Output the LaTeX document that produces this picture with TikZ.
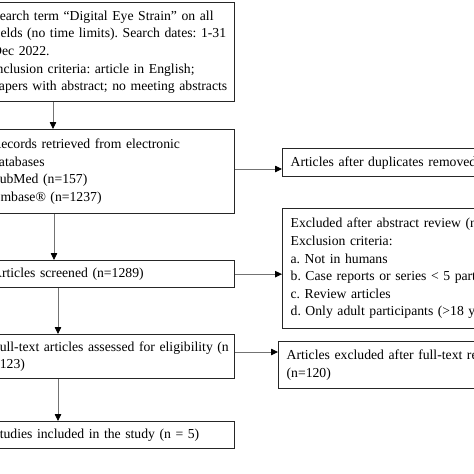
\documentclass[tikz,border=0pt]{standalone}
\usepackage{fontspec}
\setmainfont{Liberation Serif}
\usetikzlibrary{arrows.meta,positioning}

\begin{document}
\frenchspacing
\begin{tikzpicture}[x=1pt, y=-1pt,
    box/.style={draw=black!85, line width=1.3pt, anchor=north west, align=left, font=\fontsize{13.7}{17.6}\selectfont, inner xsep=4pt, inner ysep=0pt, text width=238pt},
    sidebox/.style={box, inner xsep=8pt, text width=260pt},
    arr/.style={draw=black!55, line width=0.8pt, -{Triangle[length=7pt, width=6.5pt, color=black]}}
]
\useasboundingbox (0,0) rectangle (474,474);
\clip (0,0) rectangle (474,474);

\node[box, minimum height=99pt] (search) at (-12.5,2) {Search term “Digital Eye Strain” on all\\fields (no time limits). Search dates: 1-31\\Dec 2022.\\Inclusion criteria: article in English;\\papers with abstract; no meeting abstracts};
\node[box, minimum height=84pt] (records) at (-12.5,129) {Records retrieved from electronic\\databases\\PubMed (n=157)\\Embase® (n=1237)};
\node[box, minimum height=27pt] (screened) at (-12.5,260) {Articles screened (n=1289)};
\node[box, minimum height=44pt] (fulltext) at (-12.5,334) {Full-text articles assessed for eligibility (n\\=123)};
\node[box, minimum height=27pt] (included) at (-12.5,421) {Studies included in the study (n = 5)};

\node[sidebox, minimum height=28pt] (dup) at (282,148) {Articles after duplicates removed};
\node[sidebox, minimum height=120pt] (absexcl) at (282,208) {Excluded after abstract review (n\\Exclusion criteria:\\a. Not in humans\\b. Case reports or series < 5 participants\\c. Review articles\\d. Only adult participants (>18 yrs)};
\node[sidebox, minimum height=47pt] (ftexcl) at (278,341) {Articles excluded after full-text review\\(n=120)};

% main column
\draw[arr] (search.south -| 53,0) -- (records.north -| 53,0);
\draw[arr] (records.south -| 54,0) -- (screened.north -| 54,0);
\draw[arr] (screened.south -| 58,0) -- (fulltext.north -| 58,0);
\draw[arr] (fulltext.south -| 58,0) -- (included.north -| 58,0);

% side exits
\draw[arr] (records.east |- 0,169) -- (dup.west |- 0,169);
\draw[arr] (screened.east) -- (screened.east -| absexcl.west);
\draw[arr] (fulltext.east |- 0,352) -- (ftexcl.west |- 0,352);
\end{tikzpicture}
\end{document}
